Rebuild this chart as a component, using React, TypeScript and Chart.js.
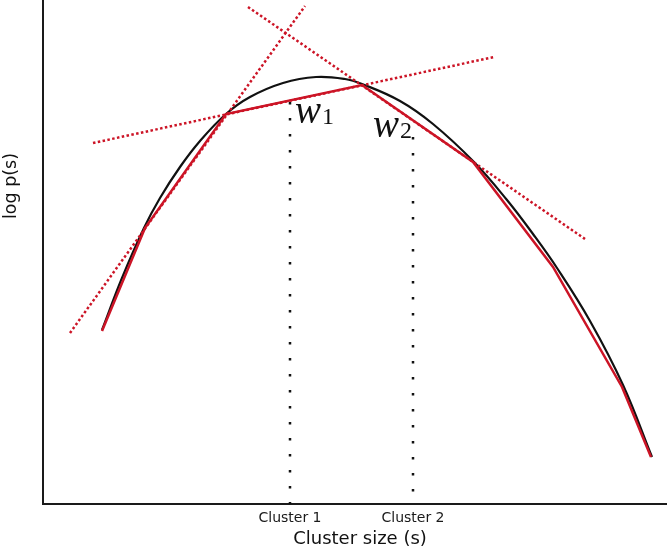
import React, { useEffect, useRef } from "react";
import { Chart, registerables } from "chart.js";

Chart.register(...registerables);

// Axis ranges (arbitrary units: cluster size, log p)
const X_MIN = 0;
const X_MAX = 624;
const Y_MIN = 0;
const Y_MAX = 504;

// Smooth log p(s) curve
const curveX = [59, 79, 101, 117, 137, 157, 183, 207, 240, 273, 302, 319, 357, 390, 431, 464, 490, 514, 547, 580, 609];
const curveY = [174, 226, 276, 306, 337, 363, 390, 407, 421, 427, 425, 420, 403, 380, 342, 304, 270, 236, 183, 119, 47];

// Piecewise-linear approximation
const chordX = [59, 102, 183, 319, 430, 510, 579, 608];
const chordY = [173, 276, 390, 419, 342, 237, 117, 47];

// Extended segments (dotted)
const tangentAX = [27, 262];
const tangentAY = [171, 498];
const tangentBX = [50, 451];
const tangentBY = [361, 447];
const tangentCX = [205, 542];
const tangentCY = [497, 265];

// Cluster markers
const clusterX = [247, 370];
const clusterTopY = [402, 367];
const clusterLabels = ["Cluster 1", "Cluster 2"];

// Weight labels w_1, w_2
const weightSubs = ["1", "2"];
const weightX = [252, 330];
const weightY = [381, 367];

const xTitle = "Cluster size (s)";
const yTitle = "log p(s)";
const yTitleAt = 318;

const RED = "#cc1426";
const INK = "#111111";
const SANS = "'DejaVu Sans', 'Open Sans', sans-serif";
const SERIF = "'Liberation Serif', 'DejaVu Serif', serif";

const pts = (xs: number[], ys: number[]) => xs.map((x, i) => ({ x, y: ys[i] }));

const textPlugin = {
  id: "textLayer",
  afterDraw(chart: any) {
    const { ctx, chartArea } = chart;
    const xs = chart.scales.x;
    const ys = chart.scales.y;
    ctx.save();
    ctx.fillStyle = INK;
    ctx.textAlign = "left";
    ctx.textBaseline = "alphabetic";
    weightSubs.forEach((sub, i) => {
      const px = xs.getPixelForValue(weightX[i]);
      const py = ys.getPixelForValue(weightY[i]);
      ctx.font = `italic 39px ${SERIF}`;
      ctx.fillText("w", px, py);
      const w = ctx.measureText("w").width;
      ctx.font = `24px ${SERIF}`;
      ctx.fillText(sub, px + w + 1, py + 1);
    });
    // x title
    ctx.font = `18px ${SANS}`;
    ctx.textAlign = "center";
    ctx.fillText(xTitle, (chartArea.left + chartArea.right) / 2 + 5, chartArea.bottom + 40);
    // y title
    ctx.translate(chartArea.left - 27, ys.getPixelForValue(yTitleAt));
    ctx.rotate(-Math.PI / 2);
    ctx.font = `17.5px ${SANS}`;
    ctx.fillText(yTitle, 0, 0);
    ctx.restore();
  },
};

export default function App() {
  const ref = useRef<HTMLCanvasElement>(null);

  useEffect(() => {
    if (!ref.current) return;
    const dotted = (xs: number[], ys: number[]) => ({
      data: pts(xs, ys),
      borderColor: RED,
      borderWidth: 2.5,
      borderDash: [2.5, 2.4],
      pointRadius: 0,
      fill: false,
    });
    const chart = new Chart(ref.current, {
      type: "line",
      data: {
        datasets: [
          {
            data: pts(chordX, chordY),
            borderColor: RED,
            borderWidth: 2.5,
            pointRadius: 0,
            tension: 0,
            fill: false,
          },
          dotted(tangentAX, tangentAY),
          dotted(tangentBX, tangentBY),
          dotted(tangentCX, tangentCY),
          {
            data: pts(curveX, curveY),
            borderColor: INK,
            borderWidth: 2.2,
            pointRadius: 0,
            tension: 0.4,
            fill: false,
          },
          ...clusterX.map((cx, i) => ({
            data: [
              { x: cx, y: clusterTopY[i] },
              { x: cx, y: Y_MIN },
            ],
            borderColor: INK,
            borderWidth: 2.5,
            borderDash: [2.5, 13.5],
            pointRadius: 0,
            fill: false,
          })),
        ],
      },
      options: {
        animation: false,
        responsive: false,
        events: [],
        layout: { padding: 0 },
        plugins: {
          legend: { display: false },
          tooltip: { enabled: false },
          title: { display: false },
        },
        scales: {
          x: {
            type: "linear",
            position: "bottom",
            min: X_MIN,
            max: X_MAX,
            grid: { display: false, drawTicks: false },
            border: { display: true, color: "#1a1a1a", width: 2 },
            ticks: {
              autoSkip: false,
              maxRotation: 0,
              minRotation: 0,
              padding: 6,
              color: "#1a1a1a",
              font: { family: SANS, size: 14 },
              callback: (value: any) => {
                const i = clusterX.indexOf(Number(value));
                return i >= 0 ? clusterLabels[i] : "";
              },
            },
            afterBuildTicks: (scale: any) => {
              scale.ticks = clusterX.map((v) => ({ value: v }));
            },
            afterFit: (scale: any) => {
              scale.height = 45;
            },
          },
          y: {
            type: "linear",
            min: Y_MIN,
            max: Y_MAX,
            grid: { display: false, drawTicks: false },
            border: { display: true, color: "#1a1a1a", width: 2 },
            ticks: { display: false },
            afterFit: (scale: any) => {
              scale.width = 43;
            },
          },
        },
      },
      plugins: [textPlugin],
    } as any);
    return () => chart.destroy();
  }, []);

  return (
    <div style={{ position: "fixed", left: 0, top: 0, width: 667, height: 549, background: "#fff" }}>
      <canvas ref={ref} width={667} height={549} style={{ display: "block" }} />
    </div>
  );
}
